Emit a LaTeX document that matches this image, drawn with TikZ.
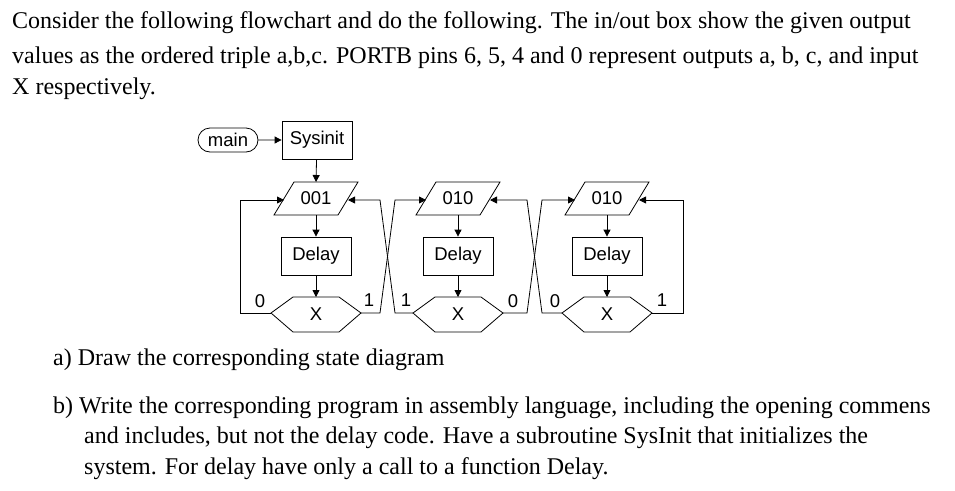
\documentclass[tikz,border=0pt]{standalone}
\usepackage{fontspec}
\setmainfont{Liberation Serif}
\newfontfamily\fcsans{Liberation Sans}
\usetikzlibrary{arrows.meta,shapes.misc}
\begin{document}
\begin{tikzpicture}[x=1pt,y=-1pt,
  txt/.style={anchor=base west,inner sep=0pt,font=\fontsize{24}{28}\selectfont},
  fc/.style={draw,line width=0.8pt,font=\fcsans\fontsize{18.5}{21}\selectfont,inner sep=0pt},
  box/.style={fc,rectangle,minimum width=70pt,minimum height=38pt},
  ln/.style={line width=0.8pt},
  ar/.style={ln,-{Triangle[length=7pt,width=7pt]}},
  lab/.style={font=\fcsans\fontsize{18.5}{21}\selectfont,inner sep=0pt}]
\useasboundingbox (0,0) rectangle (955,490);
\node[txt] (t1) at (12,28) {Consider the following flowchart and do the following. The in/out box show the given output};
\node[txt] (t2) at (12,63) {values as the ordered triple a,b,c. PORTB pins 6, 5, 4 and 0 represent outputs a, b, c, and input};
\node[txt] (t3) at (12,94) {X respectively.};
\node[txt] (ta) at (53,365) {a)\hspace{6pt}Draw the corresponding state diagram};
\node[txt] (tb) at (53,413) {b)\hspace{6pt}Write the corresponding program in assembly language, including the opening commens};
\node[txt] (tb2) at (84,443) {and includes, but not the delay code. Have a subroutine SysInit that initializes the};
\node[txt] (tb3) at (84,474) {system. For delay have only a call to a function Delay.};

\node[fc,rounded rectangle,minimum width=60pt,minimum height=24pt] (main) at (228,140) {main};
\node[box] (sys) at (317,140) {Sysinit};
\foreach \i/\x/\v in {1/316/001,2/458/010,3/607/010}{
  \node[lab,minimum height=33pt] (p\i) at (\x,198) {\v};
  \draw[ln] (\x-22,182) -- (\x+42,182) -- (\x+22,215) -- (\x-42,215) -- cycle;
  \coordinate (pl\i) at (\x-32,200);
  \coordinate (pr\i) at (\x+32,200);
  \node[box] (d\i) at (\x,256) {Delay};
  \node[lab,minimum height=35pt] (h\i) at (\x,314.5) {X};
  \draw[ln] (\x-45,313) -- (\x-23,297) -- (\x+23,297) -- (\x+45,313) -- (\x+23,332) -- (\x-23,332) -- cycle;
  \coordinate (hl\i) at (\x-45,313);
  \coordinate (hr\i) at (\x+45,313);
  \draw[ar] (\x,215) -- (d\i);
  \draw[ar] (d\i) -- (\x,297);
}
\draw[ar] (main) -- (sys);
\draw[ar] (sys) -- (316,182);
\foreach \n/\x in {a/240,b/380,c/395,e/527,f/542,g/683}{
  \coordinate (\n b) at (\x,313);
  \coordinate (\n t) at (\x,200);
}
\draw[ar] (hl1) -- (ab) -- (at) -- (pl1);
\draw[ar] (hr1) -- (bb) -- (ct) -- (pl2);
\draw[ar] (hl2) -- (cb) -- (bt) -- (pr1);
\draw[ar] (hr2) -- (eb) -- (ft) -- (pl3);
\draw[ar] (hl3) -- (fb) -- (et) -- (pr2);
\draw[ar] (hr3) -- (gb) -- (gt) -- (pr3);
\node[lab] (l1) at (260,301) {0};
\node[lab] (l2) at (369,300) {1};
\node[lab] (l3) at (406,300) {1};
\node[lab] (l4) at (513,301) {0};
\node[lab] (l5) at (555,301) {0};
\node[lab] (l6) at (662,300) {1};
\end{tikzpicture}
\end{document}
